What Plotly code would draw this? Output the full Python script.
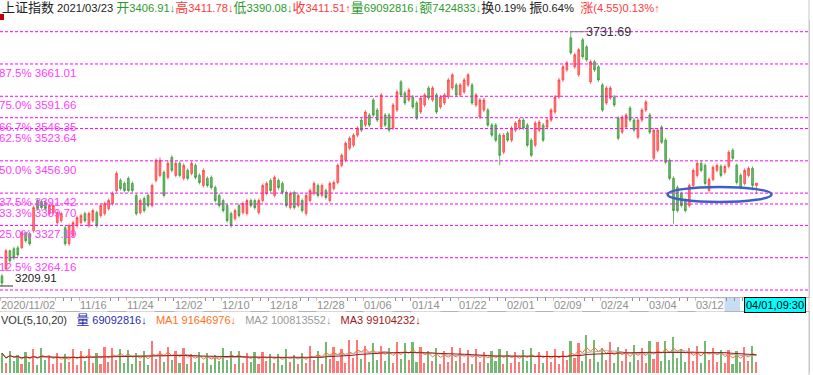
import numpy as np
import pandas as pd
import plotly.graph_objects as go

# ---------------- data ----------------
holidays = ["2021-01-01", "2021-02-11", "2021-02-12", "2021-02-15", "2021-02-16", "2021-02-17"]
trade_days = pd.bdate_range("2020-11-02", "2021-03-23")
trade_days = trade_days[~trade_days.isin(pd.to_datetime(holidays))]
BARS_PER_DAY = 2

open_ = [
    3229.1, 3242.6, 3277.5, 3281.4, 3283.3, 3283.3, 3312.8, 3310.9, 3316.7, 3376.6,
    3374.6, 3372.6, 3350.5, 3352.5, 3332.6, 3336.6, 3322.7, 3291.2, 3306.9, 3326.7,
    3332.6, 3350.5, 3326.7, 3336.6, 3352.5, 3346.5, 3350.5, 3360.5, 3370.6, 3396.8,
    3417.0, 3410.9, 3421.2, 3410.9, 3386.7, 3352.5, 3380.6, 3386.7, 3366.5, 3417.0,
    3427.2, 3433.4, 3423.2, 3464.2, 3427.2, 3451.8, 3421.2, 3437.5, 3431.3, 3447.7,
    3427.2, 3406.9, 3421.2, 3423.2, 3402.8, 3386.7, 3376.6, 3366.5, 3350.5, 3340.6,
    3366.5, 3352.5, 3350.5, 3376.6, 3376.6, 3352.5, 3376.6, 3390.7, 3417.0, 3386.7,
    3417.0, 3410.9, 3392.7, 3362.5, 3392.7, 3366.5, 3376.6, 3350.5, 3376.6, 3390.7,
    3406.9, 3386.7, 3396.8, 3376.6, 3400.8, 3412.9, 3447.7, 3458.1, 3482.8, 3489.1,
    3509.9, 3541.4, 3530.9, 3551.9, 3583.8, 3562.5, 3526.7, 3551.9, 3551.9, 3524.6,
    3562.5, 3622.4, 3598.8, 3583.8, 3590.2, 3577.4, 3558.3, 3573.1, 3609.4, 3583.8,
    3594.5, 3568.9, 3577.4, 3590.2, 3609.4, 3615.9, 3594.5, 3600.9, 3615.9, 3615.9,
    3573.1, 3547.7, 3562.5, 3562.5, 3530.9, 3530.9, 3509.9, 3474.6, 3514.1, 3499.5,
    3520.3, 3524.6, 3541.4, 3530.9, 3499.5, 3489.1, 3520.3, 3530.9, 3526.7, 3541.4,
    3558.3, 3590.2, 3626.6, 3648.3, 3718.2, 3654.8, 3637.5, 3713.9, 3698.4, 3622.4,
    3665.8, 3654.8, 3615.9, 3577.4, 3588.0, 3590.2, 3545.6, 3516.1, 3526.7, 3566.8,
    3541.4, 3505.7, 3541.4, 3562.5, 3551.9, 3462.2, 3478.7, 3526.7, 3499.5, 3458.1,
    3421.2, 3402.8, 3390.7, 3376.6, 3366.5, 3406.9, 3427.2, 3451.8, 3447.7, 3396.8,
    3419.1, 3437.5, 3445.6, 3433.4, 3445.6, 3478.7, 3447.7, 3427.2, 3410.9, 3427.2,
    3441.6, 3406.91]

high = [
    3232.9, 3281.4, 3279.5, 3285.3, 3287.3, 3316.7, 3314.8, 3314.8, 3366.5, 3380.6,
    3378.6, 3376.6, 3370.6, 3368.5, 3356.6, 3354.5, 3326.7, 3330.7, 3336.6, 3346.5,
    3350.5, 3354.5, 3354.5, 3360.5, 3356.6, 3370.6, 3374.6, 3380.6, 3394.7, 3435.5,
    3421.2, 3415.0, 3425.2, 3415.0, 3390.7, 3380.6, 3384.7, 3390.7, 3410.9, 3462.2,
    3464.2, 3437.5, 3458.1, 3468.3, 3456.0, 3456.0, 3451.8, 3441.6, 3456.0, 3451.8,
    3431.3, 3441.6, 3425.2, 3427.2, 3406.9, 3390.7, 3380.6, 3370.6, 3354.5, 3360.5,
    3370.6, 3374.6, 3380.6, 3380.6, 3380.6, 3380.6, 3410.9, 3415.0, 3421.2, 3427.2,
    3421.2, 3415.0, 3396.8, 3394.7, 3396.8, 3390.7, 3380.6, 3390.7, 3400.8, 3415.0,
    3410.9, 3410.9, 3400.8, 3415.0, 3417.0, 3451.8, 3472.5, 3497.4, 3507.8, 3514.1,
    3528.8, 3545.7, 3562.5, 3556.2, 3588.1, 3566.8, 3598.8, 3556.2, 3556.2, 3577.4,
    3605.2, 3626.6, 3603.0, 3609.5, 3594.5, 3581.7, 3592.3, 3598.8, 3613.7, 3613.7,
    3598.8, 3594.5, 3598.8, 3631.0, 3641.8, 3620.2, 3620.2, 3631.0, 3641.8, 3620.2,
    3598.8, 3588.0, 3588.0, 3566.8, 3535.1, 3535.1, 3514.1, 3514.1, 3518.3, 3528.8,
    3539.3, 3545.7, 3545.7, 3535.1, 3503.7, 3539.3, 3541.4, 3535.1, 3545.7, 3566.8,
    3594.5, 3631.0, 3659.1, 3667.8, 3731.69, 3685.3, 3696.3, 3718.2, 3702.7, 3670.1,
    3670.1, 3659.1, 3620.2, 3613.7, 3613.7, 3594.5, 3549.8, 3551.9, 3556.2, 3571.0,
    3545.7, 3545.7, 3566.8, 3583.8, 3556.2, 3524.6, 3524.6, 3530.9, 3503.6, 3462.2,
    3425.2, 3406.9, 3394.7, 3380.6, 3410.9, 3441.6, 3456.0, 3458.1, 3451.8, 3423.2,
    3447.7, 3451.8, 3449.9, 3449.9, 3478.7, 3482.8, 3451.8, 3431.3, 3441.6, 3445.6,
    3445.6, 3411.78]

low = [
    3209.91, 3238.7, 3254.2, 3260.0, 3265.8, 3281.4, 3293.2, 3287.3, 3312.8, 3356.6,
    3358.5, 3356.6, 3346.5, 3348.5, 3328.7, 3332.6, 3287.3, 3287.3, 3303.0, 3322.7,
    3328.7, 3332.6, 3322.7, 3332.6, 3322.7, 3342.6, 3346.5, 3356.6, 3366.5, 3392.7,
    3396.8, 3392.7, 3392.7, 3392.7, 3346.5, 3348.5, 3352.5, 3362.5, 3362.5, 3412.9,
    3423.2, 3382.6, 3419.1, 3433.4, 3423.2, 3423.2, 3417.0, 3417.0, 3427.2, 3419.1,
    3408.9, 3402.8, 3402.8, 3398.8, 3372.6, 3362.5, 3352.5, 3332.6, 3322.7, 3336.6,
    3342.6, 3348.5, 3346.5, 3362.5, 3358.5, 3348.5, 3372.6, 3386.7, 3392.7, 3382.6,
    3398.8, 3388.7, 3362.5, 3358.5, 3358.5, 3362.5, 3352.5, 3346.5, 3372.6, 3386.7,
    3382.6, 3382.6, 3378.6, 3372.6, 3396.8, 3408.9, 3443.6, 3454.0, 3478.6, 3485.0,
    3505.7, 3516.1, 3526.7, 3526.7, 3547.6, 3537.2, 3522.4, 3526.7, 3516.1, 3520.3,
    3558.3, 3590.2, 3573.1, 3579.6, 3564.6, 3541.4, 3554.0, 3568.9, 3583.8, 3579.6,
    3554.0, 3564.6, 3573.1, 3585.9, 3605.2, 3590.2, 3590.2, 3596.6, 3611.6, 3573.1,
    3568.9, 3543.4, 3558.3, 3526.7, 3505.7, 3495.3, 3447.7, 3470.4, 3495.3, 3495.3,
    3516.1, 3520.3, 3520.3, 3485.0, 3464.2, 3485.0, 3516.1, 3495.3, 3522.4, 3537.2,
    3554.0, 3585.9, 3622.4, 3644.0, 3680.9, 3650.5, 3633.2, 3672.3, 3665.8, 3618.1,
    3644.0, 3622.4, 3558.3, 3573.1, 3583.8, 3568.9, 3499.5, 3511.9, 3522.4, 3537.2,
    3516.1, 3501.5, 3537.2, 3558.3, 3511.9, 3458.1, 3474.6, 3491.2, 3449.9, 3417.0,
    3330.6, 3352.5, 3362.5, 3352.5, 3362.5, 3402.8, 3423.2, 3433.4, 3406.9, 3390.7,
    3415.0, 3433.4, 3423.2, 3429.3, 3441.6, 3458.1, 3408.9, 3398.8, 3406.9, 3423.2,
    3396.8, 3390.08]

close = [
    3215.6, 3277.5, 3258.1, 3263.8, 3269.7, 3312.8, 3297.1, 3291.2, 3362.5, 3360.5,
    3362.5, 3360.5, 3366.5, 3366.5, 3352.5, 3350.5, 3291.2, 3326.7, 3332.6, 3342.6,
    3346.5, 3336.6, 3350.5, 3356.6, 3326.7, 3366.5, 3370.6, 3376.6, 3390.7, 3431.3,
    3400.8, 3396.8, 3396.8, 3396.8, 3350.5, 3376.6, 3356.6, 3366.5, 3406.9, 3458.1,
    3458.1, 3386.7, 3451.8, 3437.5, 3451.8, 3427.2, 3447.7, 3421.2, 3451.8, 3423.2,
    3412.9, 3437.5, 3406.9, 3402.8, 3376.6, 3366.5, 3356.6, 3336.6, 3326.7, 3356.6,
    3346.5, 3370.6, 3376.6, 3366.5, 3362.5, 3376.6, 3406.9, 3410.9, 3396.8, 3423.2,
    3402.8, 3392.7, 3366.5, 3390.7, 3362.5, 3386.7, 3356.6, 3386.7, 3396.8, 3410.9,
    3386.7, 3406.9, 3382.6, 3410.9, 3412.9, 3447.7, 3468.3, 3493.2, 3503.6, 3509.9,
    3524.6, 3520.3, 3558.3, 3530.9, 3551.9, 3541.4, 3594.5, 3530.9, 3520.3, 3573.1,
    3600.9, 3594.5, 3577.4, 3605.2, 3568.9, 3545.6, 3588.0, 3594.5, 3588.0, 3609.4,
    3558.3, 3590.2, 3594.5, 3626.6, 3637.5, 3594.5, 3615.9, 3626.6, 3637.5, 3577.4,
    3594.5, 3583.8, 3583.8, 3530.9, 3509.9, 3499.5, 3468.3, 3509.9, 3499.5, 3524.6,
    3535.1, 3541.4, 3524.6, 3489.1, 3468.3, 3535.1, 3537.2, 3499.5, 3541.4, 3562.5,
    3590.2, 3626.6, 3654.8, 3663.5, 3685.3, 3680.9, 3692.0, 3676.6, 3670.1, 3665.8,
    3648.3, 3626.6, 3562.5, 3609.4, 3609.4, 3573.1, 3503.6, 3547.7, 3551.9, 3541.4,
    3520.3, 3541.4, 3562.5, 3579.6, 3516.1, 3520.3, 3520.3, 3495.3, 3454.0, 3421.2,
    3356.6, 3356.6, 3366.5, 3356.6, 3406.9, 3437.5, 3451.8, 3437.5, 3410.9, 3419.1,
    3443.7, 3447.7, 3427.2, 3445.6, 3474.6, 3462.2, 3412.9, 3402.8, 3437.5, 3441.6,
    3406.96, 3411.51]

# volume (millions of hands): first and second bar of each trading day
vol_am = [
    118, 130, 106, 124, 142, 148, 100, 118, 112, 142,
    130, 142, 118, 153, 148, 142, 136, 118, 130, 189,
    130, 153, 130, 148, 112, 124, 118, 106, 148, 130,
    130, 118, 124, 124, 112, 112, 142, 106, 118, 159,
    130, 183, 153, 142, 195, 195, 159, 177, 159, 148,
    183, 177, 183, 153, 130, 148, 130, 153, 148, 136,
    142, 124, 130, 142, 130, 124, 136, 148, 124, 130,
    142, 130, 189, 177, 224, 195, 148, 183, 153, 142,
    165, 148, 189, 183, 189, 212, 142, 148, 159, 189,
    148, 136, 136, 130, 153, 159]
vol_pm = [
    59, 71, 53, 65, 47, 77, 53, 59, 65, 47,
    71, 59, 53, 65, 77, 59, 53, 71, 47, 83,
    65, 77, 59, 53, 65, 59, 47, 71, 77, 53,
    59, 65, 53, 71, 59, 47, 65, 53, 59, 77,
    53, 83, 71, 59, 89, 83, 65, 77, 71, 59,
    83, 77, 65, 59, 71, 53, 65, 71, 59, 53,
    65, 59, 71, 53, 59, 65, 71, 53, 59, 65,
    53, 77, 89, 71, 83, 65, 77, 59, 71, 65,
    77, 59, 83, 71, 77, 89, 65, 71, 59, 77,
    65, 59, 53, 65, 71, 69.092816]

tick_dates = ["2020-11-02", "2020-11-16", "2020-11-24", "2020-12-02", "2020-12-10",
              "2020-12-18", "2020-12-28", "2021-01-06", "2021-01-14", "2021-01-22",
              "2021-02-01", "2021-02-09", "2021-02-24", "2021-03-04", "2021-03-12"]
tick_text = ["2020/11/02", "11/16", "11/24", "12/02", "12/10", "12/18", "12/28", "01/06",
             "01/14", "01/22", "02/01", "02/09", "02/24", "03/04", "03/12"]

fib_pct = ["100.0%", "87.5%", "75.0%", "66.7%", "62.5%", "50.0%", "37.5%", "33.3%",
           "25.0%", "12.5%", "0.0%"]
fib_val = [3731.69, 3661.01, 3591.66, 3546.35, 3523.64, 3456.90, 3391.42, 3369.70,
           3327.19, 3264.16, 3202.30]
fib_labeled = [False, True, True, True, True, True, True, True, True, True, False]

index_name = "上证指数"
bar_date = "2021/03/23"
amount_text = "7424833"
turnover_text = "0.19%"
vol_ma_windows = [5, 10, 20]
vol_ma_text = ["91646976", "100813552", "99104232"]
cursor_text = "04/01,09:30"

# ---------------- derived ----------------
n = len(close)
assert len(open_) == n == len(high) == len(low) == 192, (len(open_), len(high), len(low), n)
assert len(vol_am) == len(vol_pm) == len(trade_days) == 96
x = np.arange(n)
o, h, l, c = map(np.array, (open_, high, low, close))
vol = np.column_stack([vol_am, vol_pm]).ravel() * 1e6
up = c >= o

day_pos = {d: i for i, d in enumerate(trade_days)}
tick_days = [day_pos[pd.Timestamp(d)] for d in tick_dates]

X_RANGE = [-0.5, 204.3]
lo_log, hi_log = np.log10(fib_val[-1]), np.log10(fib_val[0])
span = hi_log - lo_log
Y_RANGE = [lo_log - span * 6.7 / 258.3, hi_log + span * 11.7 / 258.3]

RED_LINE = "rgb(255,55,55)"
RED_FILL = "rgb(255,120,120)"
GREEN_LINE = "rgb(45,150,45)"
GREEN_FILL = "rgb(115,185,115)"
FONT = "Liberation Sans, Arial, Noto Sans CJK SC, DejaVu Sans"

fig = go.Figure()

# fibonacci lines
for v in fib_val:
    fig.add_trace(go.Scatter(x=X_RANGE, y=[v, v], mode="lines",
                             line=dict(color="#ff00ff", width=1, dash="3px,2px"),
                             hoverinfo="skip", showlegend=False, xaxis="x", yaxis="y"))

fig.add_trace(go.Candlestick(
    x=x, open=o, high=h, low=l, close=c, xaxis="x", yaxis="y",
    increasing=dict(line=dict(color=RED_LINE, width=0.7), fillcolor=RED_FILL),
    decreasing=dict(line=dict(color=GREEN_LINE, width=0.7), fillcolor=GREEN_FILL),
    whiskerwidth=0, showlegend=False, hoverinfo="skip"))

imin = int(np.argmin(l))
imax = int(np.argmax(h))
fig.add_trace(go.Scatter(x=[imin - 0.5, imin + 2.8], y=[l[imin], l[imin]], mode="lines",
                         line=dict(color="#303030", width=1), hoverinfo="skip",
                         showlegend=False, xaxis="x", yaxis="y"))

# volume
fig.add_trace(go.Bar(x=x, y=vol,
                     marker=dict(color=[RED_FILL if u else GREEN_FILL for u in up],
                                 line=dict(width=0)),
                     width=0.42, xaxis="x2", yaxis="y2", showlegend=False, hoverinfo="skip"))
ma_colors = ["#ff7020", "#a8a8a8", "#a01818"]
vs = pd.Series(vol)
for w, col in zip(vol_ma_windows, ma_colors):
    fig.add_trace(go.Scatter(x=x, y=vs.rolling(w, min_periods=1).mean(), mode="lines",
                             line=dict(color=col, width=1), xaxis="x2", yaxis="y2",
                             hoverinfo="skip", showlegend=False))

ann = []


def seg(text, color, size=None):
    st = f"color:{color}"
    if size:
        st += f";font-size:{size}px"
    return f'<span style="{st}">{text}</span>'


G_TXT, R_TXT, K_TXT = "#2e9a2e", "#ff3b3b", "#222222"
chg = c[-1] - c[-2]
pct = chg / c[-2] * 100
amp = (h[-1] - l[-1]) / c[-2] * 100
header = (
    seg(index_name, K_TXT, 13) + seg(f"\u00a0{bar_date}\u00a0", K_TXT)
    + seg("开", G_TXT, 13) + seg(f"{o[-1]:.2f}↓", G_TXT)
    + seg("高", R_TXT, 13) + seg(f"{h[-1]:.2f}↓", R_TXT)
    + seg("低", G_TXT, 13) + seg(f"{l[-1]:.2f}↓", G_TXT)
    + seg("收", R_TXT, 13) + seg(f"{c[-1]:.2f}↑", R_TXT)
    + seg("量", G_TXT, 13) + seg(f"{int(round(vol[-1]))}↓", G_TXT)
    + seg("额", G_TXT, 13) + seg(f"{amount_text}↓", G_TXT)
    + seg("换", K_TXT, 13) + seg(f"{turnover_text}\u00a0", K_TXT)
    + seg("振", K_TXT, 13) + seg(f"{amp:.2f}%\u00a0\u00a0", K_TXT)
    + seg("涨", R_TXT, 13) + seg(f"({chg:.2f}){pct:.2f}%↑", R_TXT)
)
ann.append(dict(text=header, xref="paper", yref="paper", x=0, y=1, xanchor="left",
                yanchor="middle", xshift=0, yshift=12.5, showarrow=False,
                font=dict(size=11.2, family=FONT, color=K_TXT)))

sp3 = "\u00a0\u00a0\u00a0"
vol_header = (
    seg(f"VOL({','.join(str(w) for w in vol_ma_windows)})" + sp3, "#333333")
    + seg("量", "#2b2bb0", 13) + seg(f"\u00a0{int(round(vol[-1]))}↓" + sp3, "#2b2bb0")
    + seg(f"MA1 {vol_ma_text[0]}↓" + sp3, ma_colors[0])
    + seg(f"MA2 {vol_ma_text[1]}↓" + sp3, "#9a9a9a")
    + seg(f"MA3 {vol_ma_text[2]}↓", ma_colors[2])
)
ann.append(dict(text=vol_header, xref="paper", yref="paper", x=0, y=(373 - 319.5) / 353,
                xanchor="left", yanchor="middle", xshift=-1, showarrow=False,
                font=dict(size=11, family=FONT, color="#333")))

for p, v, show in zip(fib_pct, fib_val, fib_labeled):
    if show:
        ann.append(dict(text=f"{p} {v:.2f}", xref="paper", yref="y", x=0, y=np.log10(v),
                        xanchor="left", yanchor="top", xshift=-3, yshift=-1, showarrow=False,
                        font=dict(size=11.5, family=FONT, color="#ff3cff")))

STRIP_Y = (373 - 304.5) / 353
for d, t in zip(tick_days, tick_text):
    ann.append(dict(text=t, xref="x", yref="paper", x=d * BARS_PER_DAY - 0.5, y=STRIP_Y,
                    xanchor="left", yanchor="middle", xshift=0, showarrow=False,
                    bgcolor="white", borderpad=0,
                    font=dict(size=11, family=FONT, color="#909090")))

ann.append(dict(text=cursor_text, xref="paper", yref="paper", x=1, y=STRIP_Y, xanchor="right",
                yanchor="middle", xshift=-3, showarrow=False, bgcolor="#00ffff",
                bordercolor="#000000", borderwidth=1, borderpad=1,
                font=dict(size=11, family=FONT, color="#000000")))

ann.append(dict(text=f"{h[imax]:.2f}", xref="x", yref="y", x=imax, y=np.log10(h[imax]),
                showarrow=True, arrowhead=0, arrowwidth=1, arrowcolor="#808080",
                ax=38, ay=0, standoff=0, font=dict(size=12.5, family=FONT, color="#333333")))
ann.append(dict(text=f"{l[imin]:.2f}", xref="x", yref="y", x=imin - 0.5, y=np.log10(l[imin]),
                xanchor="left", yanchor="bottom", xshift=13, yshift=0, showarrow=False,
                font=dict(size=11.5, family=FONT, color="#202020")))

shapes = [
    dict(type="circle", xref="x", yref="y", x0=168.5, x1=194.8, y0=3373.6, y1=3403.9,
         line=dict(color="#3c5fc8", width=2.5), layer="above"),
    dict(type="rect", xref="paper", yref="paper", x0=713 / 809, x1=740 / 809,
         y0=(373 - 311) / 353, y1=(373 - 297.5) / 353, fillcolor="#c8dcf2",
         line=dict(width=0), layer="below"),
    dict(type="line", xref="paper", yref="paper", x0=1, x1=1, y0=-2 / 353, y1=1 + 20 / 353,
         line=dict(color="#c8c8c8", width=1)),
    dict(type="rect", xref="paper", yref="paper", x0=0, x1=4 / 809,
         y0=(373 - 20) / 353, y1=(373 - 14) / 353, fillcolor="#c00000", line=dict(width=0)),
]

day_ticks = [d * BARS_PER_DAY - 0.5 for d in range(len(trade_days))]

fig.update_layout(
    width=813, height=375, margin=dict(l=0, r=4, t=20, b=2),
    paper_bgcolor="white", plot_bgcolor="white",
    showlegend=False, bargap=0, boxgap=0.55, boxgroupgap=0,
    annotations=ann, shapes=shapes,
    font=dict(family=FONT),
    xaxis=dict(domain=[0, 1], anchor="y", range=X_RANGE, showgrid=False, zeroline=False,
               showline=True, linecolor="#b4b4b4", linewidth=1, ticks="outside", ticklen=3,
               tickcolor="#909090", tickvals=day_ticks, showticklabels=False,
               rangeslider=dict(visible=False)),
    yaxis=dict(domain=[(373 - 296.7) / 353, 1], type="log", range=Y_RANGE, showgrid=False,
               zeroline=False, showticklabels=False, ticks="", showline=True, side="right",
               linecolor="#c8c8c8"),
    xaxis2=dict(domain=[0, 1], anchor="y2", range=X_RANGE, side="top", showline=True,
                linecolor="#b4b4b4", showticklabels=False, ticks="", showgrid=False,
                zeroline=False),
    yaxis2=dict(domain=[0, (373 - 311.7) / 353], range=[0, 362e6], showgrid=False,
                zeroline=False, showticklabels=False, ticks="", showline=True, side="right",
                linecolor="#c8c8c8"),
)

fig.write_html("out.html")
